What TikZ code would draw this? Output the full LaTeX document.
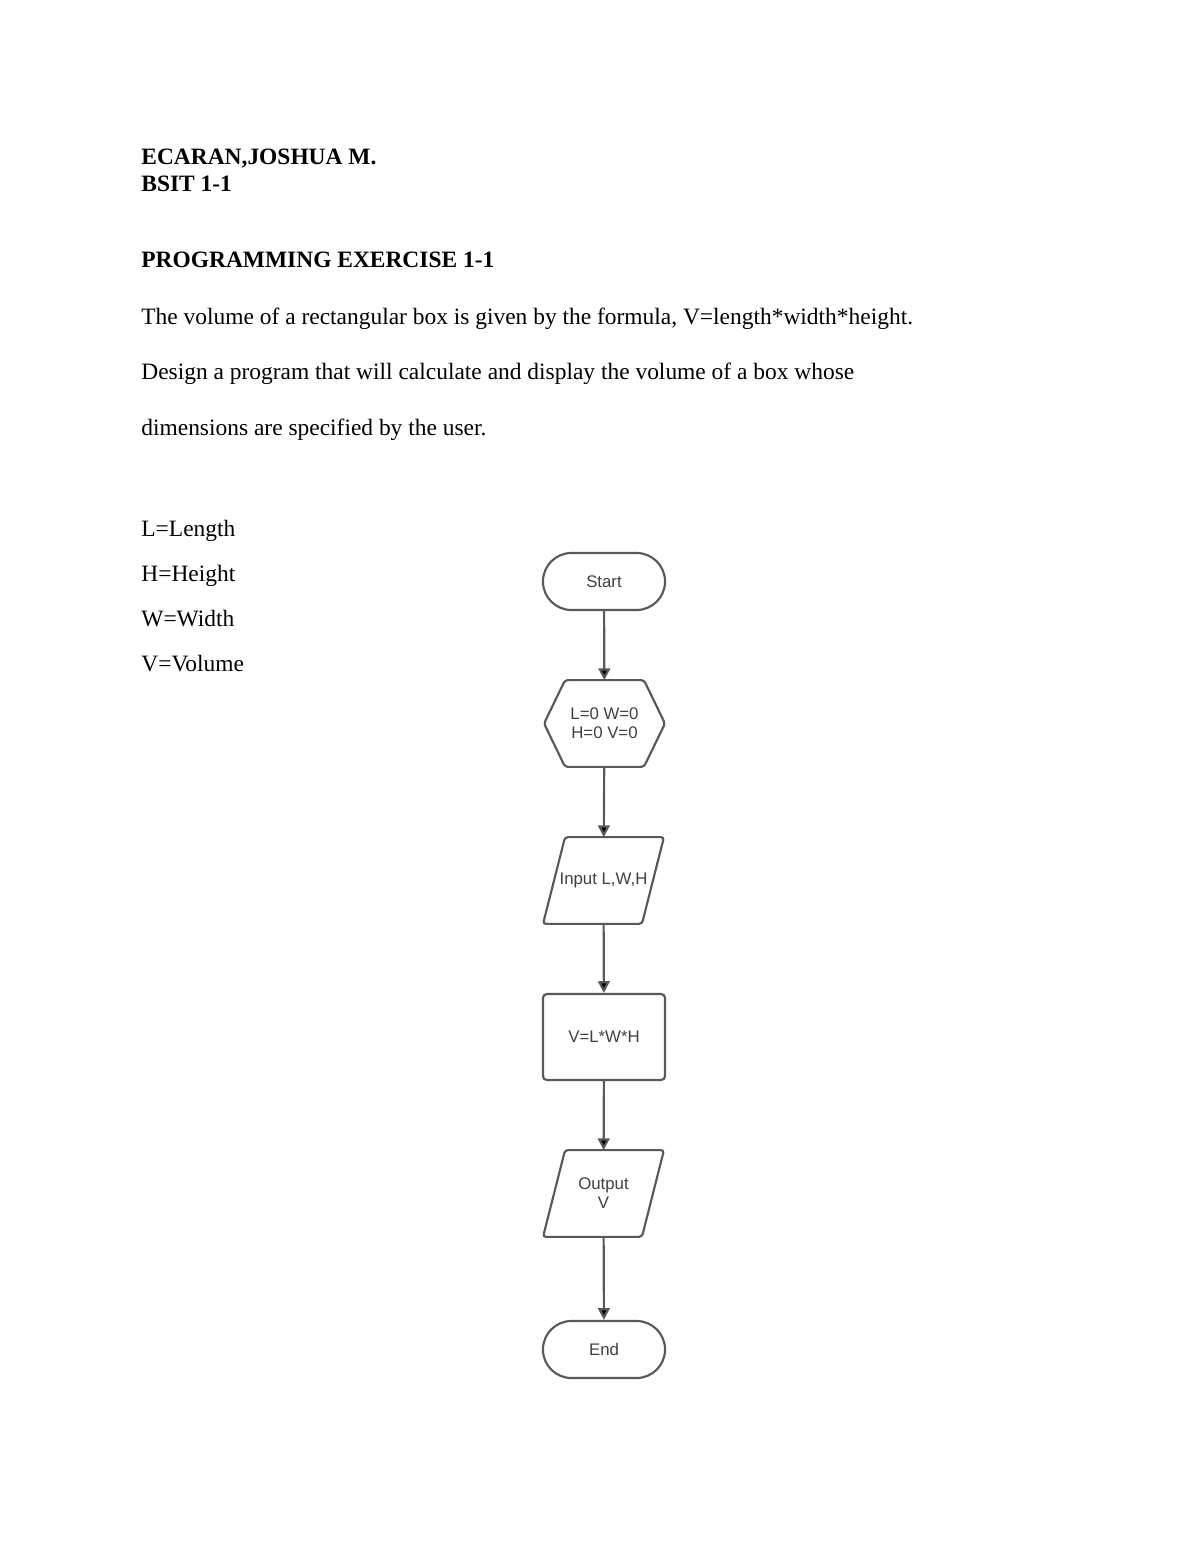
\documentclass[tikz,border=0pt]{standalone}
\usepackage{fontspec}
\setmainfont{Liberation Serif}
\newfontfamily\chartfont{Liberation Sans}
\usetikzlibrary{shapes.misc,arrows.meta,calc}
\definecolor{linegray}{HTML}{595959}
\definecolor{textgray}{HTML}{404040}

\begin{document}
\begin{tikzpicture}[x=0.5119pt,y=-0.5119pt,
	doc/.style={anchor=base west,inner sep=0pt,font=\fontsize{12}{14}\selectfont},
	head/.style={doc,font=\fontsize{12}{14}\selectfont\bfseries},
	chart/.style={font=\chartfont\fontsize{8.6}{9.8}\selectfont,text=textgray,align=center,inner sep=0pt},
	terminal/.style={chart,draw=linegray,line width=1.1pt,rounded rectangle,minimum width=62.5pt,minimum height=29.2pt},
	process/.style={chart,draw=linegray,line width=1.1pt,rounded corners=2pt,minimum width=62.5pt,minimum height=44pt},
	frame/.style={chart,minimum width=61.5pt,minimum height=44pt},
	outline/.style={draw=linegray,line width=1.1pt,rounded corners=1.5pt},
	flow/.style={draw=linegray,line width=1.1pt,-{Triangle[width=6pt,length=6pt]}}]

	\useasboundingbox (0,0) rectangle (1200,1553);

	% heading and task
	\draw (141,165) node [head] (name) {ECARAN,JOSHUA M.};
	\draw (141,192) node [head] (section) {BSIT 1-1};
	\draw (141,268) node [head] (title) {PROGRAMMING EXERCISE 1-1};
	\draw (141,325) node [doc] (task1) {The volume of a rectangular box is given by the formula, V=length*width*height.};
	\draw (141,380) node [doc] (task2) {Design a program that will calculate and display the volume of a box whose};
	\draw (141,436) node [doc] (task3) {dimensions are specified by the user.};

	% legend
	\draw (141,536) node [doc] (keyL) {L=Length};
	\draw (141,581) node [doc] (keyH) {H=Height};
	\draw (141,626) node [doc] (keyW) {W=Width};
	\draw (141,671) node [doc] (keyV) {V=Volume};

	% flowchart
	\draw (604,581.5) node [terminal] (start) {Start};
	\draw (604.5,723.5) node [frame] (init) {L=0 W=0\\H=0 V=0};
	\draw (603.5,880.5) node [frame] (input) {Input L,W,H};
	\draw (604,1037) node [process] (calc) {V=L*W*H};
	\draw (603.5,1193.5) node [frame] (output) {Output\\V};
	\draw (604,1349.5) node [terminal] (end) {End};

	\draw [outline] ($(init.north west)+(21,0)$) -- ($(init.north east)+(-21,0)$) -- (init.east)
		-- ($(init.south east)+(-21,0)$) -- ($(init.south west)+(21,0)$) -- (init.west) -- cycle;
	\draw [outline] ($(input.north west)+(22,0)$) -- (input.north east)
		-- ($(input.south east)+(-22,0)$) -- (input.south west) -- cycle;
	\draw [outline] ($(output.north west)+(22,0)$) -- (output.north east)
		-- ($(output.south east)+(-22,0)$) -- (output.south west) -- cycle;

	\path [flow]
		(start) edge (init)
		(init) edge (input)
		(input) edge (calc)
		(calc) edge (output)
		(output) edge (end);
\end{tikzpicture}
\end{document}
